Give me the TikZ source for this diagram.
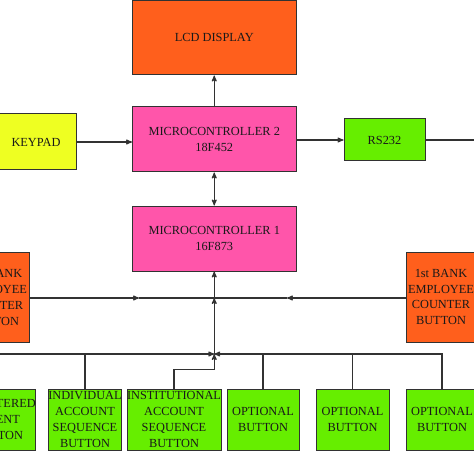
\documentclass[tikz,border=0pt]{standalone}
\usepackage{fontspec}
\setmainfont{Liberation Serif}
\usepackage{tikz}
\usetikzlibrary{arrows,positioning}
\definecolor{lcdorange}{RGB}{255,95,28}
\definecolor{mcpink}{RGB}{255,85,170}
\definecolor{keyyellow}{RGB}{238,255,34}
\definecolor{btngreen}{RGB}{102,238,0}
\definecolor{linegray}{RGB}{50,50,50}
\tikzset{
    %Define standard arrow tip
    >=stealth',
    %Define style for boxes
    block/.style={
           rectangle,
           draw=linegray, line width=1bp,
           inner sep=0pt,
           align=center,
           text=black!90,
           font=\fontsize{12.4}{16}\selectfont},
    lcdbox/.style={
           block,
           fill=lcdorange,
           minimum width=163.5bp,
           minimum height=74.5bp},
    mcbox/.style={
           block,
           fill=mcpink,
           minimum width=163.5bp,
           minimum height=65bp},
    keybox/.style={
           block,
           fill=keyyellow,
           minimum width=80bp,
           minimum height=56bp},
    rsbox/.style={
           block,
           fill=btngreen,
           minimum width=81bp,
           minimum height=42bp},
    bankbox/.style={
           block,
           fill=lcdorange,
           minimum width=70bp,
           minimum height=90bp},
    btnbox/.style={
           block,
           fill=btngreen,
           minimum width=72bp,
           minimum height=61bp},
    % Define arrow style
    pil/.style={
           ->,
           draw=linegray,
           line width=1.1bp},
    wire/.style={
           draw=linegray,
           line width=1.1bp}
}
\begin{document}
\begin{tikzpicture}[x=1bp,y=-1bp]
\useasboundingbox (0,0) rectangle (474,474);
\fill[white] (0,0) rectangle (474,474);
\clip (0,0) rectangle (474,474);
\node[lcdbox](lcd) at (214.25,37.75){LCD DISPLAY};
\node[mcbox](mc2) at (214.25,139.5){MICROCONTROLLER 2\\18F452};
\node[mcbox, below=33bp of mc2](mc1){MICROCONTROLLER 1\\16F873};
\node[keybox](keypad) at (36,142){KEYPAD};
\node[rsbox](rs) at (384.5,140){RS232};
\node[bankbox](bank2) at (-6,297){2nd BANK\\EMPLOYEE\\COUNTER\\BUTTON};
\node[bankbox](bank1) at (441,297){1st BANK\\EMPLOYEE\\COUNTER\\BUTTON};
\node[btnbox](reg) at (-2,419.5){REGISTERED\\CLIENT\\BUTTON};
\node[btnbox](ind) at (85,419.5){INDIVIDUAL\\ACCOUNT\\SEQUENCE\\BUTTON};
\node[btnbox, minimum width=92bp](ins) at (174,419.5){INSTITUTIONAL\\ACCOUNT\\SEQUENCE\\BUTTON};
\node[btnbox](opt1) at (263,419.5){OPTIONAL\\BUTTON};
\node[btnbox, minimum width=73bp](opt2) at (352.5,419.5){OPTIONAL\\BUTTON};
\node[btnbox](opt3) at (442,419.5){OPTIONAL\\BUTTON};
\coordinate (rsend) at (480,140);
\coordinate (ml) at (139,298);
\coordinate (mr) at (287,298);
\coordinate (mid) at (214.25,298);
\coordinate (jn) at (214.25,354);
% upper part
\draw[pil] (keypad.east) -- (keypad.east -| mc2.west);
\draw[pil] (rs.west -| mc2.east) -- (rs.west);
\draw[wire] (rs.east) -- (rsend);
\draw[pil] (mc2.north) -- (lcd.south);
\draw[pil, <->] (mc2.south) -- (mc1.north);
% bank counter buttons
\draw[pil] (bank2.east |- ml) -- (ml);
\draw[wire] (ml) -- (mr);
\draw[pil] (bank1.west |- mr) -- (mr);
\draw[pil] (jn) -- (mid);
\draw[pil] (mid) -- (mc1.south);
% button bus
\draw[pil] (reg.north) |- (jn);
\draw[wire] (ind.north) -- (ind.north |- jn);
\draw[pil] (ins.north) -- ++(0,-19) -| (jn);
\draw[wire] (opt1.north) -- (opt1.north |- jn);
\draw[wire] (opt2.north) -- (opt2.north |- jn);
\draw[pil] (opt3.north) |- (jn);
\end{tikzpicture}
\end{document}
